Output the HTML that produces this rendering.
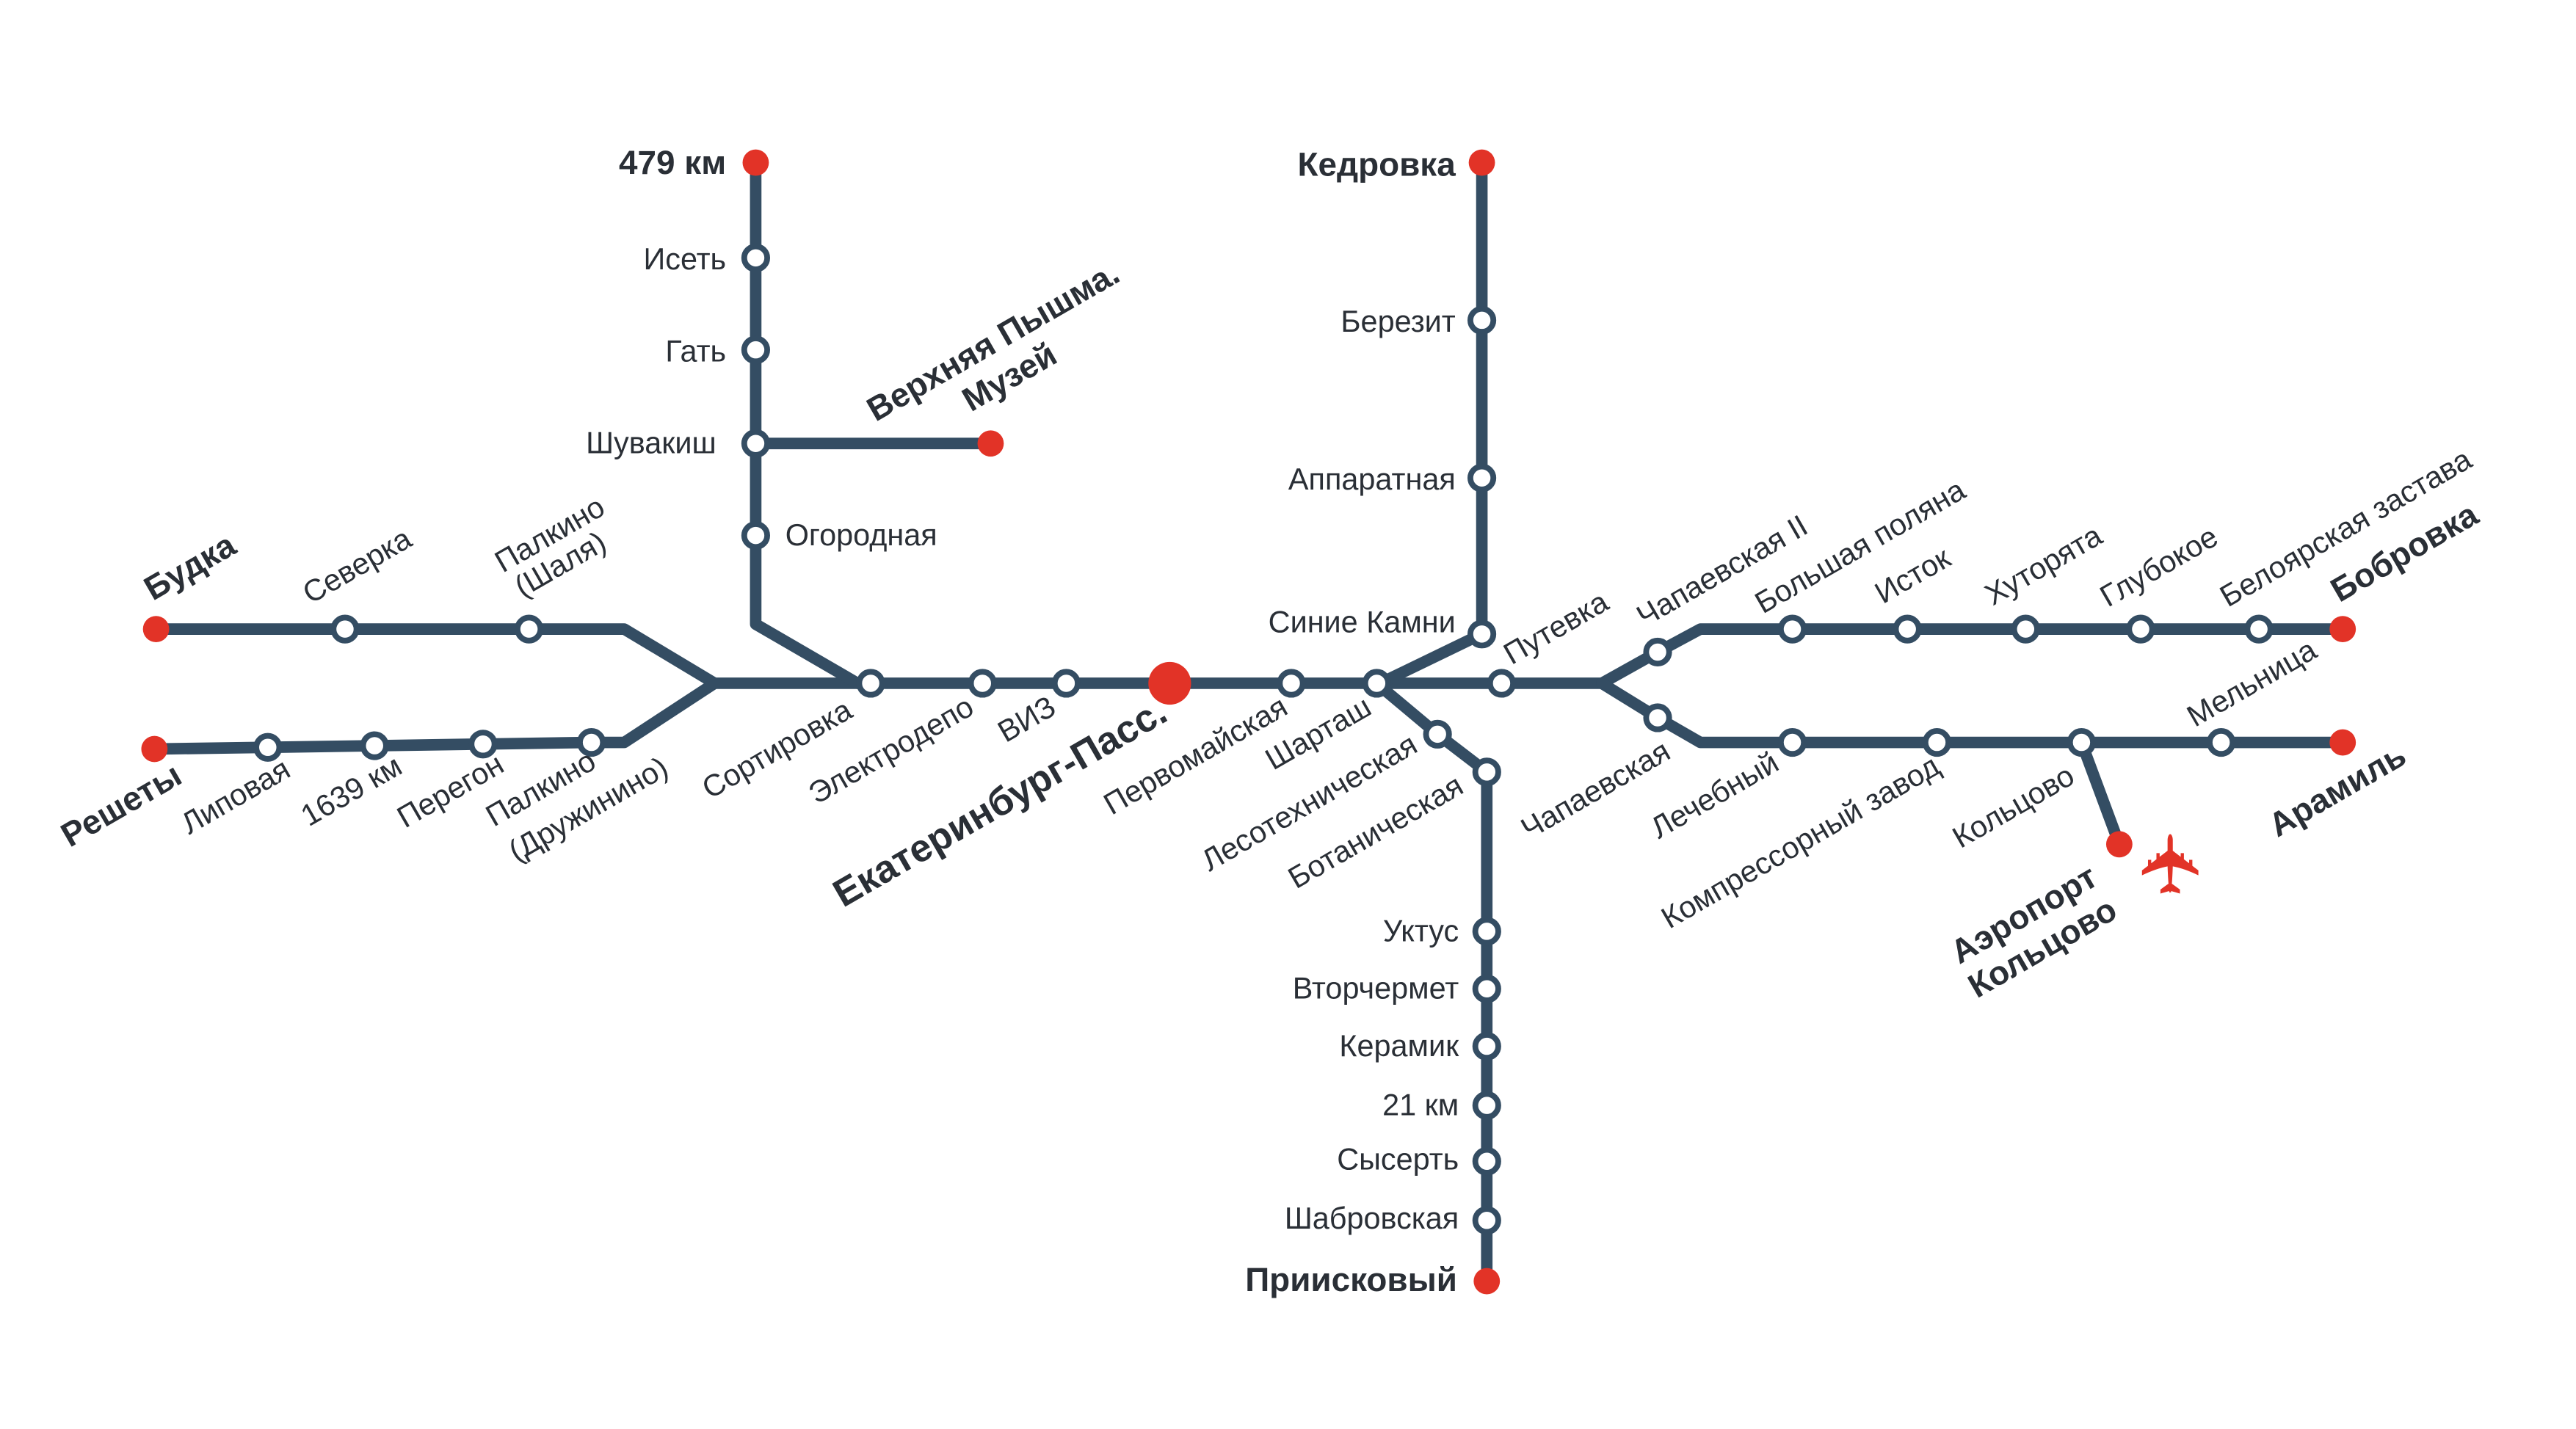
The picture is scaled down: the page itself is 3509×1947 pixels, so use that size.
<!DOCTYPE html>
<html><head><meta charset="utf-8"><style>
html,body{margin:0;padding:0;background:#fff;}
svg{display:block;}
text{font-family:"Liberation Sans","DejaVu Sans",sans-serif;font-size:18.5px;fill:#2a2f36;}
.b{font-weight:bold;font-size:20.5px;}
</style></head><body>
<svg width="3509" height="1947" viewBox="0 0 1568 870" preserveAspectRatio="none" xmlns="http://www.w3.org/2000/svg">
<g fill="none" stroke="#344d63" stroke-width="7" stroke-linejoin="round" stroke-linecap="round">
<polyline points="95,383 380,383 435,416"/>
<polyline points="94,456 163,455 228,454 294,453 360,452 380,452 435,416"/>
<line x1="435" y1="416" x2="975" y2="416"/>
<polyline points="460,99 460,380 522,416"/>
<line x1="460" y1="270" x2="603" y2="270"/>
<polyline points="902,99 902,386 840,416"/>
<polyline points="838,416 875,447 905,470 905,780"/>
<polyline points="975,416 1009,397 1035,383 1426,383"/>
<polyline points="975,416 1009,437 1035,452 1426,452"/>
<line x1="1267" y1="452" x2="1290" y2="514"/>
</g>
<g fill="#fff" stroke="#344d63" stroke-width="3.5">
<circle cx="210" cy="383" r="7"/><circle cx="322" cy="383" r="7"/>
<circle cx="163" cy="455" r="7"/><circle cx="228" cy="454" r="7"/><circle cx="294" cy="453" r="7"/><circle cx="360" cy="452" r="7"/>
<circle cx="530" cy="416" r="7"/><circle cx="598" cy="416" r="7"/><circle cx="649" cy="416" r="7"/>
<circle cx="786" cy="416" r="7"/><circle cx="838" cy="416" r="7"/><circle cx="914" cy="416" r="7"/>
<circle cx="460" cy="157" r="7"/><circle cx="460" cy="213" r="7"/><circle cx="460" cy="270" r="7"/><circle cx="460" cy="326" r="7"/>
<circle cx="902" cy="195" r="7"/><circle cx="902" cy="291" r="7"/><circle cx="902" cy="386" r="7"/>
<circle cx="875" cy="447" r="7"/><circle cx="905" cy="470" r="7"/>
<circle cx="905" cy="567" r="7"/><circle cx="905" cy="602" r="7"/><circle cx="905" cy="637" r="7"/><circle cx="905" cy="673" r="7"/><circle cx="905" cy="707" r="7"/><circle cx="905" cy="743" r="7"/>
<circle cx="1009" cy="397" r="7"/><circle cx="1091" cy="383" r="7"/><circle cx="1161" cy="383" r="7"/><circle cx="1233" cy="383" r="7"/><circle cx="1303" cy="383" r="7"/><circle cx="1375" cy="383" r="7"/>
<circle cx="1009" cy="437" r="7"/><circle cx="1091" cy="452" r="7"/><circle cx="1179" cy="452" r="7"/><circle cx="1267" cy="452" r="7"/><circle cx="1352" cy="452" r="7"/>
</g>
<g fill="#e23327">
<circle cx="95" cy="383" r="8"/><circle cx="94" cy="456" r="8"/><circle cx="460" cy="99" r="8"/><circle cx="603" cy="270" r="8"/>
<circle cx="902" cy="99" r="8"/><circle cx="905" cy="780" r="8"/><circle cx="1426" cy="383" r="8"/><circle cx="1426" cy="452" r="8"/>
<circle cx="1290" cy="514" r="8"/><circle cx="712" cy="416" r="13"/>
</g>
<text x="1326" y="526" style="fill:#e23327;font-size:50px" text-anchor="middle" dominant-baseline="middle" transform="rotate(-90 1326 526)">✈</text>
<g>
<text class="b" transform="translate(93,366) rotate(-30)">Будка</text>
<text transform="translate(189,368) rotate(-30)">Северка</text>
<text transform="translate(306,349) rotate(-30)">Палкино</text>
<text transform="translate(318,364) rotate(-30)">(Шаля)</text>
<text transform="translate(920,405) rotate(-30)">Путевка</text>
<text transform="translate(1001,382) rotate(-30)">Чапаевская II</text>
<text transform="translate(1073,374) rotate(-30)">Большая поляна</text>
<text transform="translate(1146,368) rotate(-30)">Исток</text>
<text transform="translate(1213,369) rotate(-30)">Хуторята</text>
<text transform="translate(1283,370) rotate(-30)">Глубокое</text>
<text transform="translate(1356,370) rotate(-30)">Белоярская застава</text>
<text class="b" transform="translate(1424,367) rotate(-30)">Бобровка</text>
<text transform="translate(1336,443) rotate(-30)">Мельница</text>
<text class="b" transform="translate(533,257) rotate(-30)">Верхняя Пышма.</text>
<text class="b" transform="translate(591,251) rotate(-30)">Музей</text>
</g>
<g text-anchor="end">
<text class="b" transform="translate(112,476) rotate(-30)">Решеты</text>
<text transform="translate(178,472) rotate(-30)">Липовая</text>
<text transform="translate(246,470) rotate(-30)">1639 км</text>
<text transform="translate(308,469) rotate(-30)">Перегон</text>
<text transform="translate(364,467) rotate(-30)">Палкино</text>
<text transform="translate(408,471) rotate(-30)">(Дружинино)</text>
<text transform="translate(520,436) rotate(-30)">Сортировка</text>
<text transform="translate(594,434) rotate(-30)">Электродепо</text>
<text transform="translate(644,434) rotate(-30)">ВИЗ</text>
<text class="b" style="font-size:23.5px" transform="translate(712,438) rotate(-30)">Екатеринбург-Пасс.</text>
<text transform="translate(785,434) rotate(-30)">Первомайская</text>
<text transform="translate(836,434) rotate(-30)">Шарташ</text>
<text transform="translate(864,457) rotate(-30)">Лесотехническая</text>
<text transform="translate(892,482) rotate(-30)">Ботаническая</text>
<text transform="translate(1018,461) rotate(-30)">Чапаевская</text>
<text transform="translate(1084,468) rotate(-30)">Лечебный</text>
<text transform="translate(1182,470) rotate(-30)">Компрессорный завод</text>
<text transform="translate(1264,476) rotate(-30)">Кольцово</text>
<text class="b" transform="translate(1466,464) rotate(-30)">Арамиль</text>
<text class="b" transform="translate(1278,538) rotate(-30)">Аэропорт</text>
<text class="b" transform="translate(1290,558) rotate(-30)">Кольцово</text>
</g>
<g text-anchor="end">
<text class="b" x="442" y="106">479 км</text>
<text x="442" y="164">Исеть</text>
<text x="442" y="220">Гать</text>
<text x="436" y="276">Шувакиш</text>
<text class="b" x="886" y="107">Кедровка</text>
<text x="886" y="202">Березит</text>
<text x="886" y="298">Аппаратная</text>
<text x="886" y="385">Синие Камни</text>
<text x="888" y="573">Уктус</text>
<text x="888" y="608">Вторчермет</text>
<text x="888" y="643">Керамик</text>
<text x="888" y="679">21 км</text>
<text x="888" y="712">Сысерть</text>
<text x="888" y="748">Шабровская</text>
<text class="b" x="887" y="786">Приисковый</text>
</g>
<text x="478" y="332">Огородная</text>
</svg>
</body></html>
